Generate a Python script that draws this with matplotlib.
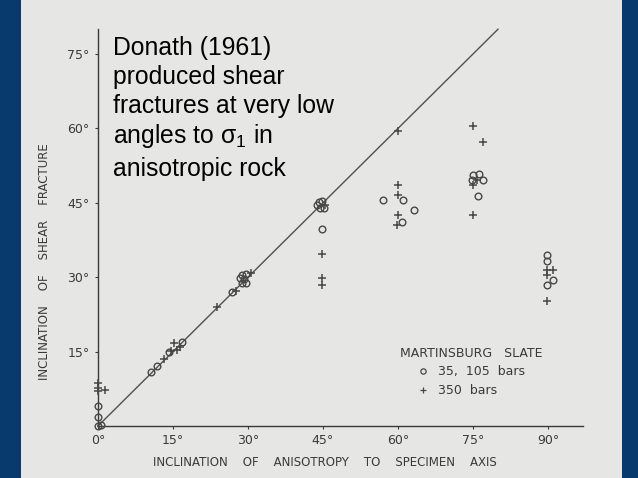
import matplotlib
matplotlib.use("Agg")
import matplotlib.pyplot as plt
from matplotlib.patches import Rectangle
from matplotlib.lines import Line2D

# ---- data (degrees) ----
circle_x = [0, 0.6, 0, 0,
            10.6, 11.7, 14.1, 16.7,
            26.7, 28.7, 29.6, 28.4, 29.2, 28.7, 29.6,
            44.1, 44.7, 43.7, 44.4, 45.1, 44.7,
            56.9, 60.9, 63.1, 60.7,
            74.9, 76.1, 74.7, 76.9, 75.9,
            89.7, 89.7, 90.9, 89.7]
circle_y = [0, 0.3, 1.9, 4.0,
            10.9, 12.0, 15.0, 17.0,
            27.0, 30.4, 30.6, 29.8, 29.6, 28.8, 28.8,
            45.2, 45.4, 44.6, 43.9, 43.9, 39.7,
            45.6, 45.6, 43.5, 41.1,
            50.6, 50.8, 49.6, 49.5, 46.4,
            34.5, 33.3, 29.4, 28.4]

plus_x = [0, 0, 0, 1.4,
          13.1, 14.6, 15.2, 15.8, 16.4,
          23.7, 27.6, 30.5,
          45.4, 44.7, 44.7, 44.7,
          59.9, 59.9, 59.9, 59.9, 59.7,
          74.9, 76.9, 75.7, 74.9, 74.9,
          89.7, 90.9, 89.7, 89.7]
plus_y = [8.7, 7.6, 7.0, 7.3,
          13.6, 15.2, 16.8, 15.4, 16.0,
          24.0, 27.3, 30.8,
          44.6, 34.6, 29.8, 28.5,
          59.5, 48.5, 46.6, 42.5, 40.5,
          60.5, 57.3, 49.6, 48.5, 42.5,
          31.5, 31.5, 30.4, 25.2]

line_x = [0, 80]
line_y = [0, 80]

xticks = [0, 15, 30, 45, 60, 75, 90]
yticks = [15, 30, 45, 60, 75]
xticklabels = ["0°", "15°", "30°", "45°", "60°", "75°", "90°"]
yticklabels = ["15°", "30°", "45°", "60°", "75°"]

note_lines = ["Donath (1961)", "produced shear", "fractures at very low",
              "angles to σ$_1$ in", "anisotropic rock"]

NAVY = "#083a6d"
PAGE = "#e6e6e4"
INK = "#3a3a3a"

plt.rcParams["mathtext.fontset"] = "custom"
plt.rcParams["mathtext.rm"] = "Liberation Sans"
plt.rcParams["mathtext.it"] = "Liberation Sans"

W, H = 638, 478
fig = plt.figure(figsize=(W / 100, H / 100), dpi=100, facecolor=NAVY)
fig.patches.append(Rectangle((21 / W, 0), (622 - 21) / W, 1, transform=fig.transFigure,
                             facecolor=PAGE, edgecolor="none", zorder=-10))

x0, y0 = 98, 426
pxx, pxy = 5.0, 4.96
xmax, ymax = 97, 80
ax = fig.add_axes([x0 / W, (H - y0) / H, xmax * pxx / W, ymax * pxy / H])
ax.set_zorder(5)
ax.set_facecolor("none")
ax.set_xlim(0, xmax)
ax.set_ylim(0, ymax)
for s in ["top", "right"]:
    ax.spines[s].set_visible(False)
for s in ["left", "bottom"]:
    ax.spines[s].set_color(INK)
    ax.spines[s].set_linewidth(1.0)

ax.plot(line_x, line_y, color="#505050", lw=1.0, zorder=2, clip_on=False)
ax.plot(circle_x, circle_y, ls="none", marker="o", ms=4.8, mfc="none", mec="#474747",
        mew=1.0, clip_on=False, zorder=3)
ax.plot(plus_x, plus_y, ls="none", marker="+", ms=5.2, mec="#474747", mew=1.1,
        clip_on=False, zorder=3)

ax.set_xticks(xticks)
ax.set_xticklabels(xticklabels)
ax.set_yticks(yticks)
ax.set_yticklabels(yticklabels)
ax.tick_params(axis="both", length=2, width=0.8, color=INK, labelcolor=INK,
               labelsize=9, pad=4)

ax.set_xlabel("INCLINATION    OF    ANISOTROPY    TO    SPECIMEN    AXIS", fontsize=8.5,
              color=INK)
ax.set_ylabel("INCLINATION    OF    SHEAR    FRACTURE", fontsize=8.5, color=INK)
ax.yaxis.set_label_coords(-(x0 - 45) / (xmax * pxx), (y0 - 262) / (ymax * pxy))
ax.xaxis.set_label_coords((325 - x0) / (xmax * pxx), -(463 - y0) / (ymax * pxy))
ax.xaxis.label.set_va("center")
ax.yaxis.label.set_va("center")

handles = [Line2D([], [], ls="none", marker="o", ms=3.8, mfc="none", mec="#474747", mew=0.9),
           Line2D([], [], ls="none", marker="+", ms=4.5, mec="#474747", mew=0.9)]
leg = ax.legend(handles, ["35,  105  bars", "350  bars"], title="MARTINSBURG   SLATE",
                loc="center", bbox_to_anchor=(471 / W, 1 - 372 / H),
                bbox_transform=fig.transFigure, frameon=False, fontsize=9,
                title_fontsize=9, handlelength=1.0, handletextpad=0.7,
                labelspacing=0.45)
for t in leg.get_texts():
    t.set_color(INK)
leg.get_title().set_color(INK)

baselines = [55, 84, 113, 143, 176]
for txt, b in zip(note_lines, baselines):
    fig.text(113 / W, 1 - b / H, txt, family="Liberation Sans", fontsize=17.8,
             color="black", va="baseline", ha="left", zorder=10)

fig.savefig("out.png", dpi=100, facecolor=NAVY)
